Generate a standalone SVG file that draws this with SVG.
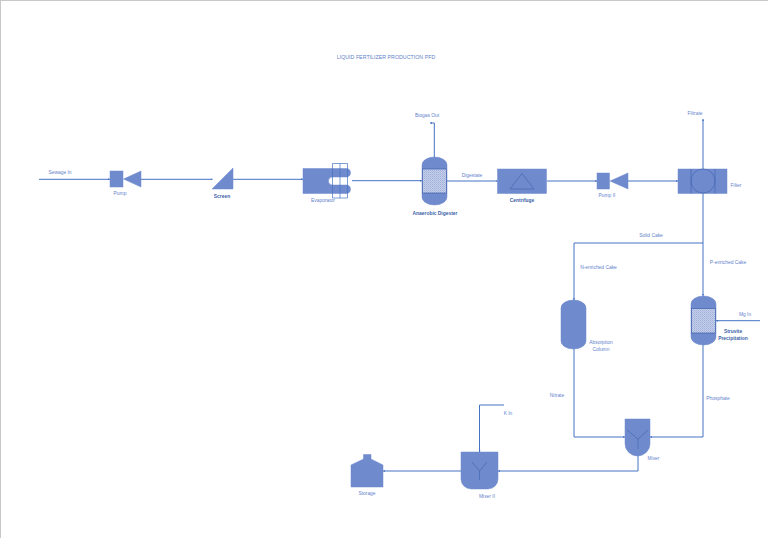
<svg xmlns="http://www.w3.org/2000/svg" width="768" height="538" viewBox="0 0 768 538">
<style>
text{font-family:"Liberation Sans",Arial,sans-serif;font-size:4.900px;fill:#5f82cc;text-anchor:middle}
text.b{font-weight:bold;fill:#3d5fa8}
.s{fill:#6f8acd;stroke:#6f8acd;stroke-width:.5}
.d{fill:none;stroke:#4667b3;stroke-width:.7}
.h{fill:url(#dots);stroke:#3f62ad;stroke-width:.7}
.c{fill:none;stroke:#4472c4;stroke-width:1;marker-end:url(#a)}
</style>
<defs>
<marker id="a" viewBox="0 0 4 4" refX="4" refY="2" markerWidth="2" markerHeight="2" markerUnits="strokeWidth" orient="auto"><path d="M0 0L4 2L0 4Z" fill="#4472c4"/></marker>
<pattern id="dots" width="2" height="2" patternUnits="userSpaceOnUse"><rect width="2" height="2" fill="#c6cfe9"/><rect width="1" height="1" fill="#9fb0dc"/><rect x="1" y="1" width="1" height="1" fill="#aebce2"/></pattern>
</defs>
<rect id="page" x="0.5" y="0.5" width="790" height="560" fill="#fff" stroke="#c8c8c8" stroke-width="1"/>
<text id="title" x="386" y="59" style="font-size:5.300px">LIQUID FERTILIZER PRODUCTION PFD</text>
<g id="connectors">
<path class="c" d="M39 179.300H110"/>
<path class="c" d="M141 179.300H212.500"/>
<path class="c" d="M233 179.300H303"/>
<path class="c" d="M352 180.700H422"/>
<path class="c" d="M434.300 157V123H430"/>
<path class="c" d="M447 181H497.500"/>
<path class="c" d="M547 181H597"/>
<path class="c" d="M628 181H678"/>
<path class="c" d="M703 169V119"/>
<path class="c" d="M703 193V296"/>
<path class="c" d="M703 243H574V300"/>
<path class="c" d="M760 320.700H716"/>
<path class="c" d="M574 349V437H625"/>
<path class="c" d="M703 345V437H650"/>
<path class="c" d="M638 456V471H498"/>
<path class="c" d="M504 405H479.500V452"/>
<path class="c" d="M461 471H383"/>
</g>
<g id="sewage-in"><text x="60" y="174">Sewage In</text></g>
<g id="pump"><rect class="s" x="110" y="171" width="13" height="16"/><path class="s" d="M123.500 179L141 171V187Z"/><text x="120" y="195">Pump</text></g>
<g id="screen"><path class="s" d="M212 189L233 168V189Z"/><text class="b" x="222" y="198">Screen</text></g>
<g id="evaporator"><path class="s" d="M303 168.500H347.500A4.500 4.500 0 0 1 347.500 177H332.500A4 4 0 0 0 332.500 185H347.500A4.500 4.500 0 0 1 347.500 193.500H303Z"/><path d="M332.500 163.500H347.500V198H332.500ZM340 163.500V198" fill="none" stroke="#4472c4" stroke-width=".7"/><text x="323" y="202">Evaporator</text></g>
<g id="biogas-out"><text x="427" y="117">Biogas Out</text></g>
<g id="digester"><rect class="s" x="422" y="157" width="25" height="48" rx="12.500" ry="8"/><rect class="h" x="422.500" y="169" width="24" height="24"/><text class="b" x="435" y="214.500">Anaerobic Digester</text></g>
<g id="digestate"><text x="472" y="177">Digestate</text></g>
<g id="centrifuge"><rect class="s" x="497.500" y="169" width="49" height="24.500"/><path class="d" d="M510 189L522 173.500L534 189Z"/><text class="b" x="522" y="202">Centrifuge</text></g>
<g id="pump-ii"><rect class="s" x="597" y="173" width="12.500" height="16"/><path class="s" d="M610 181L628 173V189Z"/><text x="607" y="197">Pump II</text></g>
<g id="filtrate"><text x="695" y="115">Filtrate</text></g>
<g id="filter"><rect class="s" x="678" y="169" width="49" height="24.500"/><path class="d" d="M691 169V193.500M715 169V193.500"/><circle class="d" cx="703" cy="181" r="12"/><text x="736" y="187">Filter</text></g>
<g id="solid-cake"><text x="651" y="237">Solid Cake</text></g>
<g id="n-cake"><text x="598.500" y="268.500">N-enriched Cake</text></g>
<g id="p-cake"><text x="728" y="264">P-enriched Cake</text></g>
<g id="absorption"><rect class="s" x="561" y="300" width="25" height="49" rx="12.500" ry="8"/><text x="601" y="344">Absorption</text><text x="601" y="351">Column</text></g>
<g id="struvite"><rect class="s" x="691" y="296" width="25" height="49" rx="12.500" ry="8"/><rect class="h" x="691.500" y="308.500" width="24" height="24.500"/><text class="b" x="733" y="333">Struvite</text><text class="b" x="733" y="340">Precipitation</text></g>
<g id="mg-in"><text x="745" y="315.500">Mg In</text></g>
<g id="nitrate"><text x="557" y="397">Nitrate</text></g>
<g id="phosphate"><text x="718" y="399.500">Phosphate</text></g>
<g id="mixer"><path class="s" d="M625 419H650V443.500A12.500 12.500 0 0 1 625 443.500Z"/><path class="d" d="M627 430L638 439L648 430M638 439V449"/><text x="653.500" y="459.500">Mixer</text></g>
<g id="k-in"><text x="508" y="415">K In</text></g>
<g id="mixer-ii"><path class="s" d="M461 452H498V479A10 10 0 0 1 488 489H471A10 10 0 0 1 461 479Z"/><path class="d" d="M472 462L479.500 471L487 462M479.500 471V480"/><text x="487" y="498">Mixer II</text></g>
<g id="storage"><path class="s" d="M363.500 454.500H371V459L383 465V487H351V465L363.500 459Z"/><text x="367" y="495">Storage</text></g>
</svg>
